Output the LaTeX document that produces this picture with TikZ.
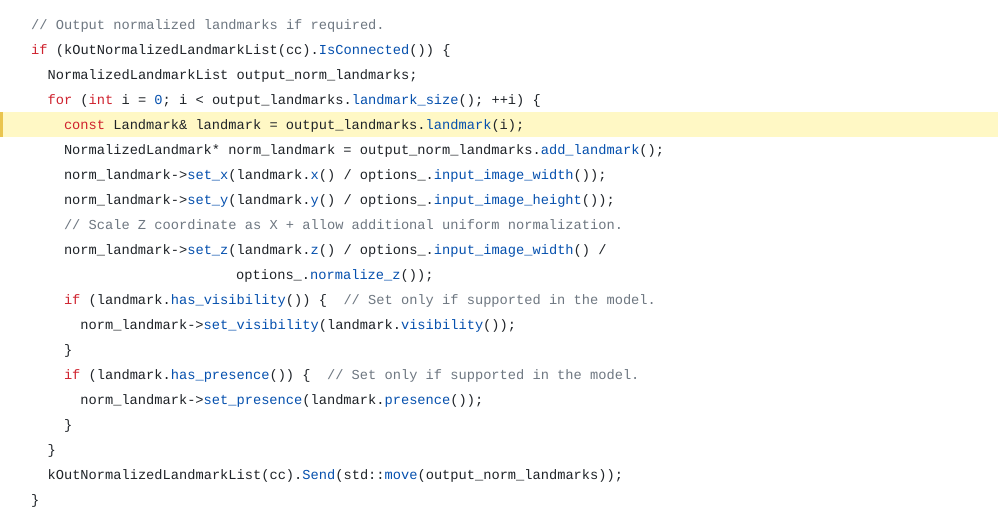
\documentclass[tikz,border=0pt]{standalone}
\usepackage{fontspec}
\setmonofont{Liberation Mono}
\definecolor{txt}{HTML}{1F2328}
\definecolor{kwc}{HTML}{CF222E}
\definecolor{fnc}{HTML}{0550AE}
\definecolor{cmc}{HTML}{6E7781}
\definecolor{hl}{HTML}{FFF8C5}
\definecolor{hlb}{HTML}{EAC54F}
\newcommand{\kw}[1]{\textcolor{kwc}{#1}}
\newcommand{\fn}[1]{\textcolor{fnc}{#1}}
\newcommand{\cm}[1]{\textcolor{cmc}{#1}}
\tikzset{code/.style={anchor=base west,inner sep=0pt,text=txt,font=\fontsize{13.7}{16}\ttfamily}}
\begin{document}
\begin{tikzpicture}[x=1pt,y=-1pt]
\useasboundingbox (0,0) rectangle (998,523);
\fill[white] (0,0) rectangle (998,523);
\fill[hl] (0,112) rectangle (998,137);
\fill[hlb] (0,112) rectangle (3,137);
\node[code] (l0) at (31,29) {\cm{// Output normalized landmarks if required.}};
\node[code] (l1) at (31,54) {\kw{if} (kOutNormalizedLandmarkList(cc).\fn{IsConnected}()) \{};
\node[code] (l2) at (47.4,79) {NormalizedLandmarkList output\_norm\_landmarks;};
\node[code] (l3) at (47.4,104) {\kw{for} (\kw{int} i = \fn{0}; i < output\_landmarks.\fn{landmark\_size}(); ++i) \{};
\node[code] (l4) at (63.8,129) {\kw{const} Landmark\& landmark = output\_landmarks.\fn{landmark}(i);};
\node[code] (l5) at (63.8,154) {NormalizedLandmark* norm\_landmark = output\_norm\_landmarks.\fn{add\_landmark}();};
\node[code] (l6) at (63.8,179) {norm\_landmark->\fn{set\_x}(landmark.\fn{x}() / options\_.\fn{input\_image\_width}());};
\node[code] (l7) at (63.8,204) {norm\_landmark->\fn{set\_y}(landmark.\fn{y}() / options\_.\fn{input\_image\_height}());};
\node[code] (l8) at (63.8,229) {\cm{// Scale Z coordinate as X + allow additional uniform normalization.}};
\node[code] (l9) at (63.8,254) {norm\_landmark->\fn{set\_z}(landmark.\fn{z}() / options\_.\fn{input\_image\_width}() /};
\node[code] (l10) at (236,279) {options\_.\fn{normalize\_z}());};
\node[code] (l11) at (63.8,304) {\kw{if} (landmark.\fn{has\_visibility}()) \{\ \ \cm{// Set only if supported in the model.}};
\node[code] (l12) at (80.2,329) {norm\_landmark->\fn{set\_visibility}(landmark.\fn{visibility}());};
\node[code] (l13) at (63.8,354) {\}};
\node[code] (l14) at (63.8,379) {\kw{if} (landmark.\fn{has\_presence}()) \{\ \ \cm{// Set only if supported in the model.}};
\node[code] (l15) at (80.2,404) {norm\_landmark->\fn{set\_presence}(landmark.\fn{presence}());};
\node[code] (l16) at (63.8,429) {\}};
\node[code] (l17) at (47.4,454) {\}};
\node[code] (l18) at (47.4,479) {kOutNormalizedLandmarkList(cc).\fn{Send}(std::\fn{move}(output\_norm\_landmarks));};
\node[code] (l19) at (31,504) {\}};
\end{tikzpicture}
\end{document}
